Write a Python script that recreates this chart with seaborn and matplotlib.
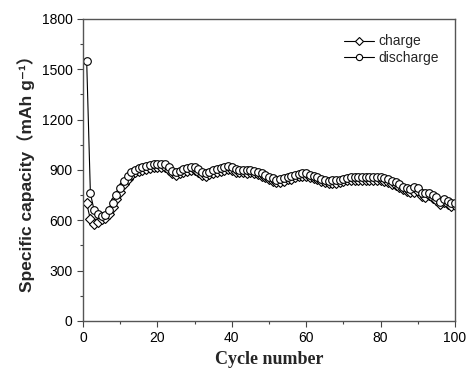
import numpy as np
import pandas as pd
import matplotlib
matplotlib.use("Agg")
import matplotlib.pyplot as plt
import seaborn as sns
from matplotlib.ticker import MultipleLocator

cycles = list(range(1, 101))

discharge = [1550, 760, 660, 635, 625, 630, 660, 705, 750, 795,
             835, 865, 885, 900, 910, 918, 925, 930, 935, 938,
             938, 935, 915, 895, 885, 895, 905, 910, 918, 920,
             905, 888, 880, 890, 898, 905, 910, 918, 922, 915,
             905, 902, 900, 898, 900, 895, 890, 880, 872, 860,
             850, 840, 845, 850, 858, 862, 870, 878, 882, 880,
             870, 865, 858, 848, 842, 835, 838, 838, 840, 848,
             852, 855, 858, 858, 858, 858, 858, 858, 858, 856,
             852, 845, 835, 825, 815, 800, 790, 785, 800, 795,
             760, 760, 765, 752, 740, 710, 728, 712, 700, 705]

charge = [700, 605, 578, 592, 605, 615, 640, 680, 725, 770,
          815, 848, 870, 885, 895, 902, 908, 912, 915, 918,
          918, 915, 900, 880, 870, 880, 890, 895, 900, 902,
          890, 872, 865, 875, 883, 890, 895, 900, 905, 900,
          890, 888, 885, 883, 885, 880, 875, 865, 855, 845,
          835, 825, 830, 835, 843, 848, 855, 862, 866, 865,
          855, 850, 843, 833, 826, 820, 822, 823, 825, 832,
          838, 840, 842, 842, 842, 842, 842, 842, 842, 840,
          836, 828, 818, 808, 798, 785, 772, 768, 770, 775,
          745, 740, 748, 735, 722, 698, 708, 695, 685, 690]

series_names = ["charge", "discharge"]

df = pd.concat([
    pd.DataFrame({"cycle": cycles, "capacity": charge, "series": "charge"}),
    pd.DataFrame({"cycle": cycles, "capacity": discharge, "series": "discharge"}),
])

sns.set_style("ticks")
plt.rcParams["font.family"] = ["Liberation Sans", "DejaVu Sans", "Noto Sans CJK SC"]

fig = plt.figure(figsize=(4.74, 3.78), dpi=100)
ax = fig.add_axes([0.175, 0.151, 0.785, 0.799])

sns.lineplot(data=df, x="cycle", y="capacity", style="series",
             style_order=series_names,
             markers={"charge": "D", "discharge": "o"}, dashes=False,
             color="black", markerfacecolor="white", markeredgecolor="black",
             markersize=5.5, markeredgewidth=0.8, linewidth=0.8,
             ax=ax, legend=True)

ax.set_xlim(0, 100)
ax.set_ylim(0, 1800)
ax.xaxis.set_major_locator(MultipleLocator(20))
ax.xaxis.set_minor_locator(MultipleLocator(10))
ax.yaxis.set_major_locator(MultipleLocator(300))
ax.yaxis.set_minor_locator(MultipleLocator(150))
ax.tick_params(which="both", direction="out", color="#444444", labelsize=10,
               labelcolor="black")
ax.tick_params(which="major", length=4, width=0.8)
ax.tick_params(which="minor", length=2.5, width=0.8)
for s in ax.spines.values():
    s.set_visible(True)
    s.set_color("#555555")
    s.set_linewidth(1.0)

ax.set_xlabel("Cycle number", family=["Liberation Serif"], fontweight="bold",
              fontsize=13, labelpad=4)
ax.set_ylabel("Specific capacity（mAh g⁻¹）", fontweight="bold", fontsize=12.5,
              labelpad=5)

leg = ax.legend(loc="upper right", frameon=False, fontsize=10,
                handlelength=2.2, handletextpad=0.3, labelspacing=0.2,
                bbox_to_anchor=(0.99, 0.99))
for h in leg.legend_handles:
    h.set_markersize(4.5)

fig.savefig("out.png", dpi=100)
